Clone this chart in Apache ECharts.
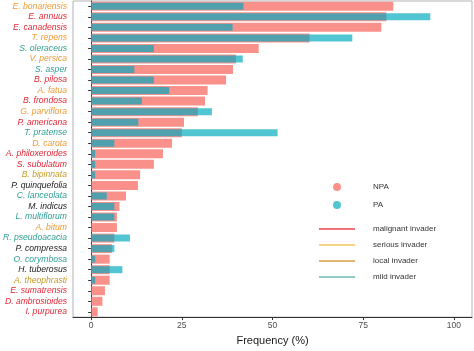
<!DOCTYPE html>
<html>
<head>
<meta charset="utf-8">
<script src="https://cdn.jsdelivr.net/npm/echarts@6/dist/echarts.min.js"></script>
<style>
  html, body { margin: 0; padding: 0; background: #fff; }
  #chart { width: 474px; height: 351px; }
</style>
</head>
<body>
<div id="chart"></div>
<script>
const species = [
  'E. bonariensis', 'E. annuus', 'E. canadensis', 'T. repens', 'S. oleraceus',
  'V. persica', 'S. asper', 'B. pilosa', 'A. fatua', 'B. frondosa',
  'G. parviflora', 'P. americana', 'T. pratense', 'D. carota', 'A. philoxeroides',
  'S. subulatum', 'B. bipinnata', 'P. quinquefolia', 'C. lanceolata', 'M. indicus',
  'L. multiflorum', 'A. bitum', 'R. pseudoacacia', 'P. compressa', 'O. corymbosa',
  'H. tuberosus', 'A. theophrasti', 'E. sumatrensis', 'D. ambrosioides', 'I. purpurea'
];
// ma = malignant, se = serious, lo = local, mi = mild, no = not graded
const invaderClass = [
  'se', 'ma', 'ma', 'se', 'mi',
  'se', 'mi', 'ma', 'se', 'ma',
  'se', 'ma', 'mi', 'se', 'ma',
  'ma', 'lo', 'no', 'mi', 'no',
  'mi', 'se', 'mi', 'no', 'mi',
  'no', 'lo', 'ma', 'ma', 'ma'
];
const npa = [
  83.3, 81.4, 80.0, 60.2, 46.2,
  39.9, 39.1, 37.2, 32.1, 31.4,
  29.4, 25.6, 25.0, 22.3, 19.8,
  17.3, 13.5, 12.9, 9.6, 7.8,
  7.1, 7.1, 6.4, 5.7, 5.1,
  5.1, 5.1, 3.8, 3.1, 1.8
];
const pa = [
  42.0, 93.5, 39.0, 72.0, 17.3,
  41.8, 11.9, 17.3, 21.5, 14.0,
  33.3, 13.0, 51.4, 6.4, 1.1,
  1.1, 1.1, 0, 4.3, 6.4,
  6.4, 0, 10.7, 6.4, 1.1,
  8.6, 1.1, 0, 0, 0
];
const xTicks = [0, 25, 50, 75, 100];
const invaderNames = ['malignant invader', 'serious invader', 'local invader', 'mild invader'];

const labelColors = { ma: '#E32636', se: '#EE9A33', lo: '#C49A28', mi: '#2E9E92', no: '#1a1a1a' };
const lineColors = ['#E8434B', '#F3C45C', '#D69E42', '#6DBDB3'];

const rich = {};
Object.keys(labelColors).forEach(k => {
  rich[k] = {
    color: labelColors[k],
    fontStyle: 'italic',
    fontSize: 8.6,
    fontFamily: 'Liberation Sans'
  };
});

const chart = echarts.init(document.getElementById('chart'));

const option = {
  animation: false,
  textStyle: { fontFamily: 'Liberation Sans' },
  grid: {
    left: 73,
    right: 2,
    top: 1,
    bottom: 28,
    show: true,
    borderColor: '#b3b3b3',
    borderWidth: 1
  },
  legend: [
    {
      orient: 'vertical',
      left: 333,
      top: 182,
      padding: 0,
      itemWidth: 8,
      itemHeight: 8,
      itemGap: 8,
      data: [{ name: 'NPA', icon: 'circle' }, { name: 'PA', icon: 'circle' }],
      textStyle: { fontSize: 8, color: '#333', lineHeight: 10, padding: [0, 0, 0, 27] }
    },
    {
      orient: 'vertical',
      left: 319,
      top: 223,
      padding: 0,
      itemWidth: 36,
      itemHeight: 1.5,
      itemGap: 4,
      data: invaderNames.map(n => ({ name: n, icon: 'rect' })),
      textStyle: { fontSize: 8, color: '#333', lineHeight: 12, padding: [0, 0, 0, 13] }
    }
  ],
  xAxis: {
    type: 'value',
    min: -5,
    max: 105,
    name: 'Frequency (%)',
    nameLocation: 'middle',
    nameGap: 15,
    nameTextStyle: { fontSize: 11, color: '#1a1a1a', verticalAlign: 'top' },
    splitLine: { show: false },
    axisLine: { show: true, lineStyle: { color: '#333', width: 1 } },
    axisTick: { show: true, length: 3, lineStyle: { color: '#333' }, customValues: xTicks },
    axisLabel: { color: '#4d4d4d', fontSize: 8.5, margin: 4, customValues: xTicks }
  },
  yAxis: [
    {
      type: 'category',
      inverse: true,
      data: species,
      axisLine: { show: true, lineStyle: { color: '#333', width: 1 } },
      axisTick: { show: true, length: 3, alignWithLabel: true, lineStyle: { color: '#333' } },
      axisLabel: {
        margin: 6,
        interval: 0,
        formatter: (value, idx) => '{' + invaderClass[idx] + '|' + value + '}',
        rich: rich
      }
    },
    {
      type: 'category',
      inverse: true,
      data: species,
      show: false
    }
  ],
  series: [
    {
      name: 'NPA',
      type: 'bar',
      yAxisIndex: 0,
      barWidth: 9,
      data: npa,
      itemStyle: { color: '#F8766D', opacity: 0.8 }
    },
    {
      name: 'PA',
      type: 'bar',
      yAxisIndex: 1,
      barWidth: 7,
      data: pa,
      itemStyle: { color: '#00A9BE', opacity: 0.68 }
    }
  ].concat(invaderNames.map((n, i) => ({
    name: n,
    type: 'line',
    data: [],
    color: lineColors[i],
    lineStyle: { color: lineColors[i] }
  })))
};

chart.setOption(option);
</script>
</body>
</html>
